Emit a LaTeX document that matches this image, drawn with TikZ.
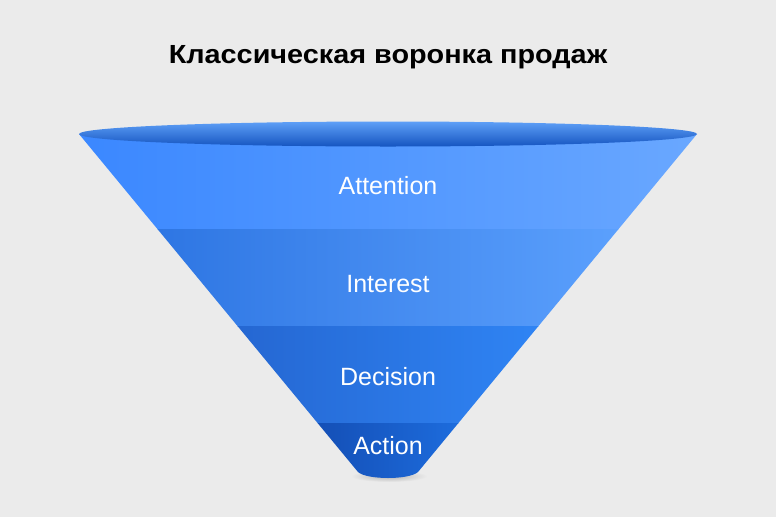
\documentclass[tikz,border=0pt]{standalone}
\usepackage{fontspec}
\setmainfont{Liberation Sans}
\newfontfamily\titlefont[FakeStretch=1.1]{Liberation Sans}
\begin{document}
\begin{tikzpicture}[x=1pt,y=-1pt,
  bandlabel/.style={text=white,font=\fontsize{25}{29}\selectfont,inner sep=0pt,anchor=center},
  titlelabel/.style={text=black,font=\titlefont\bfseries\fontsize{26.2}{30}\selectfont,inner sep=0pt,anchor=base}]
\definecolor{bg}{HTML}{EBEBEB}
\definecolor{aL}{HTML}{3A87FF}\definecolor{aR}{HTML}{6AA8FF}
\definecolor{iL}{HTML}{2E76E3}\definecolor{iR}{HTML}{5BA0FD}
\definecolor{dL}{HTML}{2567D2}\definecolor{dR}{HTML}{2F84F4}
\definecolor{cL}{HTML}{144FB6}\definecolor{cR}{HTML}{1D6CDD}
\definecolor{eT}{HTML}{5E9FF7}\definecolor{eB}{HTML}{1554C0}
\fill[bg] (0,0) rectangle (776,517);
\useasboundingbox (0,0) rectangle (776,517);
% title
\node[titlelabel] (title) at (388,63) {Классическая воронка продаж};
% shadow under funnel
\shade[inner color=black!30, outer color=bg] (389,476) ellipse [x radius=38, y radius=6];
% funnel body
\begin{scope}
\clip (79,134) -- (697,134) -- (418,472) .. controls (409,480) and (367,480) .. (358,472) -- cycle;
\shade[left color=aL, right color=aR] (70,120) rectangle (706,229);
\shade[left color=iL, right color=iR] (157,229) rectangle (619,326);
\shade[left color=dL, right color=dR] (237,326) rectangle (539,423);
\shade[left color=cL, right color=cR] (317,423) rectangle (459,485);
\end{scope}
% top rim
\shade[top color=eT, bottom color=eB] (388,134) ellipse [x radius=309, y radius=12.5];
% labels
\node[bandlabel] (attention) at (388,186) {Attention};
\node[bandlabel] (interest) at (388,284) {Interest};
\node[bandlabel] (decision) at (388,377) {Decision};
\node[bandlabel] (action) at (388,446) {Action};
\end{tikzpicture}
\end{document}
